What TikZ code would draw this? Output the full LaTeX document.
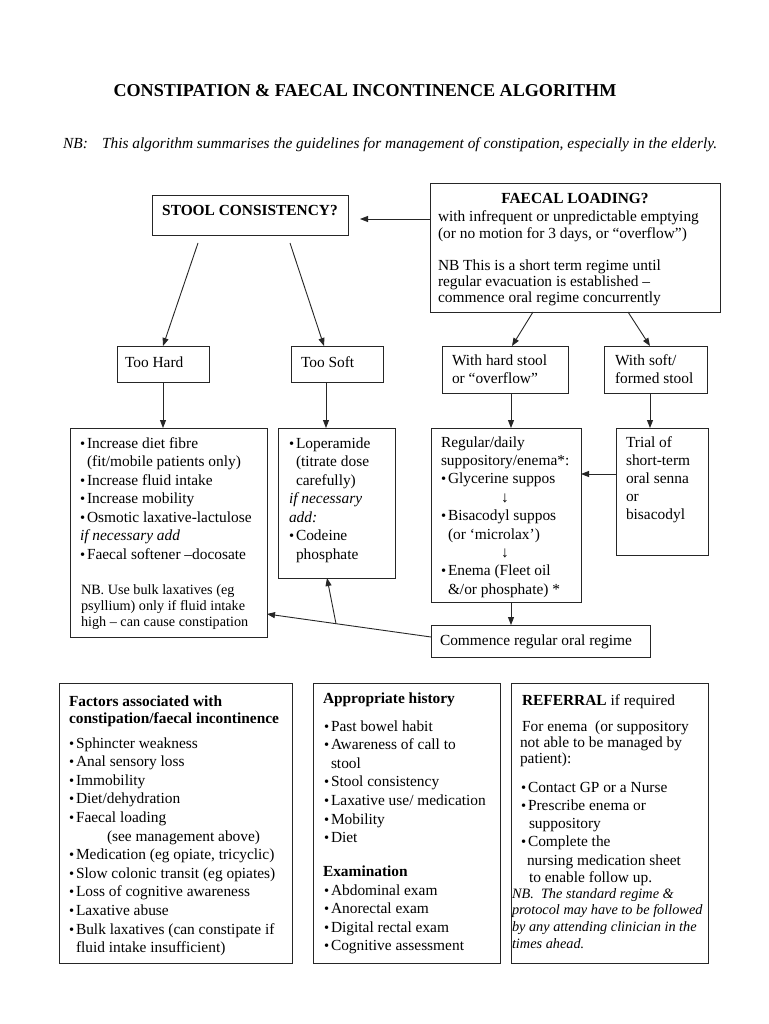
\documentclass[tikz,border=0pt]{standalone}
\usepackage{fontspec}
\setmainfont{Liberation Serif}
\usetikzlibrary{arrows.meta}
\newcommand\bu{\makebox[7pt][l]{\fontsize{14.5}{14.5}\selectfont\textbullet}}
\newcommand\ind{\hspace*{7pt}}
\newcommand\bx[5]{\node[box, minimum width={(#4-#2)*1pt}, minimum height={(#5-#3)*1pt}] (#1) at ({(#2+#4)/2},{(#3+#5)/2}) {};}
\newcommand\tlines[5]{\foreach \lineitem [count=\i] in {#5} {\node[txt] (#1-\i) at (#2,{#3+(\i-1)*#4}) {\lineitem};}}
\tikzset{
  box/.style={draw=black!85, line width=1pt, inner sep=0pt, outer sep=0pt, rectangle},
  txt/.style={anchor=base west, inner sep=0pt, outer sep=0pt, font=\fontsize{15.4}{18}\selectfont},
  small/.style={txt, font=\fontsize{14.2}{16}\selectfont},
  smit/.style={txt, font=\fontsize{14.3}{16}\selectfont\itshape},
  hd/.style={txt, font=\fontsize{15.4}{18}\selectfont\bfseries},
  arr/.style={draw=black!85, line width=0.9pt, -{Triangle[length=8pt,width=6pt]}},
}
\begin{document}
\begin{tikzpicture}[x=1pt, y=-1pt]
\path[use as bounding box, fill=white] (0,0) rectangle (768,1024);

% title
\node[anchor=base, inner sep=0pt, font=\fontsize{18.1}{20}\selectfont\bfseries] (title) at (365,97) {CONSTIPATION \& FAECAL INCONTINENCE ALGORITHM};
\node[anchor=base west, inner sep=0pt, font=\fontsize{15.4}{18}\selectfont\itshape] (nb) at (63,149) {NB:\hspace{14pt}This algorithm summarises the guidelines for management of constipation, especially in the elderly.};

% boxes
\bx{stool}{152}{196}{348}{235}
\bx{faecal}{430}{184}{720}{312}
\bx{toohard}{117}{346}{209}{382}
\bx{toosoft}{291}{346}{383}{382}
\bx{hard}{442}{346}{568}{393}
\bx{soft}{604}{346}{707}{393}
\bx{leftbox}{70}{428}{267}{637}
\bx{lop}{278}{428}{395}{578}
\bx{regular}{431}{428}{581}{602}
\bx{trial}{616}{428}{708}{555}
\bx{commence}{431}{625}{650}{657}
\bx{factors}{59}{683}{292}{963}
\bx{history}{313}{683}{500}{963}
\bx{referral}{511}{683}{708}{963}

% texts
\node[hd, anchor=base] (stool-t) at (250,216) {STOOL CONSISTENCY?};
\node[hd, anchor=base] (faecal-t) at (575,204) {FAECAL LOADING?};
\tlines{fa}{438}{222}{16.3}{{with infrequent or unpredictable emptying},{(or no motion for 3 days, or “overflow”)}}
\tlines{fb}{438}{270}{16.3}{{NB This is a short term regime until},{regular evacuation is established –},{commence oral regime concurrently}}
\node[txt] (toohard-t) at (125,367) {Too Hard};
\node[txt] (toosoft-t) at (301,367) {Too Soft};
\tlines{hd}{452}{365}{18.5}{{With hard stool},{or “overflow”}}
\tlines{sf}{615}{365}{18.5}{{With soft/},{formed stool}}
\tlines{lb}{80}{448}{18.5}{{\bu Increase diet fibre},{\ind(fit/mobile patients only)},{\bu Increase fluid intake},{\bu Increase mobility},{\bu Osmotic laxative-lactulose},{{\itshape if necessary add}},{\bu Faecal softener –docosate}}
\foreach \lineitem [count=\i] in {{NB. Use bulk laxatives (eg},{psyllium) only if fluid intake},{high – can cause constipation}} {\node[small] (lbn-\i) at (81,{594+(\i-1)*16}) {\lineitem};}
\tlines{lp}{289}{448}{18.5}{{\bu Loperamide},{\ind(titrate dose},{\ind carefully)},{{\itshape if necessary}},{{\itshape add:}},{\bu Codeine},{\ind phosphate}}
\tlines{rg}{441}{447}{18.4}{{Regular/daily},{suppository/enema*:},{\bu Glycerine suppos},{\hspace*{60pt}↓},{\bu Bisacodyl suppos},{\ind(or ‘microlax’)},{\hspace*{60pt}↓},{\bu Enema (Fleet oil},{\ind\&/or phosphate) *}}
\tlines{tr}{626}{447}{18}{{Trial of},{short-term},{oral senna},{or},{bisacodyl}}
\node[txt] (commence-t) at (440,645) {Commence regular oral regime};

\tlines{fh}{69}{706}{17.5}{{\bfseries Factors associated with},{\bfseries constipation/faecal incontinence}}
\tlines{fc}{69}{748}{18.6}{{\bu Sphincter weakness},{\bu Anal sensory loss},{\bu Immobility},{\bu Diet/dehydration},{\bu Faecal loading},{\hspace*{38pt}(see management above)},{\bu Medication (eg opiate, tricyclic)},{\bu Slow colonic transit (eg opiates)},{\bu Loss of cognitive awareness},{\bu Laxative abuse},{\bu Bulk laxatives (can constipate if},{\ind fluid intake insufficient)}}

\node[hd] (hist-t) at (323,703) {Appropriate history};
\tlines{hi}{324}{731}{18.6}{{\bu Past bowel habit},{\bu Awareness of call to},{\ind stool},{\bu Stool consistency},{\bu Laxative use/ medication},{\bu Mobility},{\bu Diet}}
\node[hd] (exam-t) at (323,876) {Examination};
\tlines{ex}{324}{895}{18.6}{{\bu Abdominal exam},{\bu Anorectal exam},{\bu Digital rectal exam},{\bu Cognitive assessment}}

\node[txt] (ref-t) at (522,705) {{\bfseries REFERRAL} if required};
\node[txt] (ref-a) at (522,731) {For enema\ \ (or suppository};
\tlines{rb}{520}{747}{16.8}{{not able to be managed by},{patient):}}
\tlines{rc}{521}{792}{18.2}{{\bu Contact GP or a Nurse},{\bu Prescribe enema or},{\hspace*{8pt}suppository},{\bu Complete the}}
\node[txt] (rc-5) at (527,865) {nursing medication sheet};
\node[txt] (rc-6) at (529,882) {to enable follow up.};
\foreach \lineitem [count=\i] in {{NB.\ \ The standard regime \&},{protocol may have to be followed},{by any attending clinician in the},{times ahead.}} {\node[smit] (rn-\i) at (512,{898+(\i-1)*16.7}) {\lineitem};}

% connectors
\coordinate (a1) at (360,219);
\draw[arr] (faecal.west |- a1) -- (a1);
\coordinate (c1s) at (198,243);
\draw[arr] (c1s) -- (toohard.north);
\coordinate (c2s) at (290,243);
\coordinate (c2e) at (324,346);
\draw[arr] (c2s) -- (c2e);
\draw[arr] (toohard.south) -- (toohard.south |- leftbox.north);
\coordinate (c3) at (326,382);
\draw[arr] (c3) -- (c3 |- lop.north);
\coordinate (c4s) at (533,312);
\coordinate (c4e) at (512,346);
\draw[arr] (c4s) -- (c4e);
\coordinate (c5s) at (628,312);
\coordinate (c5e) at (650,346);
\draw[arr] (c5s) -- (c5e);
\coordinate (c6) at (511,393);
\draw[arr] (c6) -- (c6 |- regular.north);
\coordinate (c7) at (650,393);
\draw[arr] (c7) -- (c7 |- trial.north);
\coordinate (c8) at (581,474);
\draw[arr] (trial.west |- c8) -- (c8);
\draw[arr] (c6 |- regular.south) -- (c6 |- commence.north);
\coordinate (c9) at (431,637);
\coordinate (c10) at (267,614);
\draw[arr] (c9) -- (c10);
\coordinate (c11) at (336,623.7);
\coordinate (c12) at (327,578);
\draw[arr] (c11) -- (c12);
\end{tikzpicture}
\end{document}
